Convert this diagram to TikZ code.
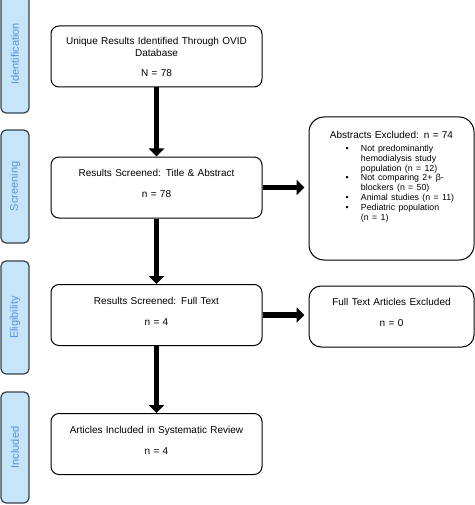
\documentclass[tikz,border=0pt]{standalone}
\usepackage{fontspec}
\setmainfont{Liberation Sans}
\usetikzlibrary{arrows.meta}

\definecolor{phasefill}{RGB}{198,229,248}
\definecolor{phasetext}{RGB}{88,146,226}
\definecolor{phaseline}{RGB}{55,65,75}

\newcommand{\padbelow}[1]{\par\nointerlineskip\vspace{#1}\hbox{}}

\begin{document}
\begin{tikzpicture}[x=1pt, y=1pt,
        phase/.style={draw=phaseline, line width=1.2pt, fill=phasefill, rounded corners=5pt, rotate=90, minimum width=113pt, minimum height=28pt, inner sep=0pt, text=phasetext, font=\fontsize{11}{13}\selectfont},
        stage/.style={draw, line width=1pt, rounded corners=8pt, minimum width=211pt, minimum height=61pt, text width=205pt, inner sep=3pt, align=center, font=\fontsize{10}{12}\selectfont},
        excl/.style={draw, line width=1pt, rounded corners=12pt, minimum width=165pt, minimum height=61pt, text width=159pt, inner sep=3pt, font=\fontsize{10}{12}\selectfont},
        flow/.style={line width=5.5pt, -{Triangle[width=15pt, length=8pt]}}]
        \useasboundingbox (0,0) rectangle (474,-505);
        % phases down the left side
        \node [phase, minimum width=118pt] (ident) at (15,-54) {Identification};
        \node [phase] (screenph) at (15,-186.5) {Screening};
        \node [phase] (eligph) at (15,-317.5) {Eligibility};
        \node [phase, minimum width=111pt] (inclph) at (15,-447.5) {Included};
        % main column
        \node [stage] (unique) at (156.5,-56.5) {Unique Results Identified Through OVID\\ Database\\[8pt] N = 78};
        \node [stage] (screen) at (156.5,-187.5) {Results Screened: Title \& Abstract\\[9pt] n = 78\padbelow{8pt}};
        \node [stage] (fulltext) at (156.5,-315) {Results Screened: Full Text\\[9pt] n = 4\padbelow{8pt}};
        \node [stage] (review) at (156.5,-444) {Articles Included in Systematic Review\\[9pt] n = 4\padbelow{8pt}};
        % exclusions
        \node [excl, rounded corners=15pt, minimum height=143pt] (absx) at (391.5,-188.5) {%
                {\centering Abstracts Excluded: n = 74\par}
                \vspace{3.5pt}
                {\fontsize{8.8}{9.8}\selectfont
                \begin{tabular}[t]{@{\hspace{33.5pt}}l@{\hspace{12.4pt}}p{98pt}@{}}
                \textbullet & Not predominantly\newline hemodialysis study\newline population (n = 12)\\
                \textbullet & Not comparing 2+ β-\newline blockers (n = 50)\\
                \textbullet & Animal studies (n = 11)\\
                \textbullet & Pediatric population\newline (n = 1)
                \end{tabular}\par}
                \padbelow{23pt}};
        \node [excl, align=center] (ftx) at (391.5,-316.5) {Full Text Articles Excluded\\[9pt] n = 0\padbelow{8pt}};
        % arrows
        \draw [flow] (unique) -- (screen);
        \draw [flow] (screen) -- (fulltext);
        \draw [flow] (fulltext) -- (review);
        \draw [flow] (screen.east) -- ([xshift=-4pt]screen.east -| absx.west);
        \draw [flow] (fulltext.east) -- ([xshift=-4pt]fulltext.east -| ftx.west);
\end{tikzpicture}
\end{document}
